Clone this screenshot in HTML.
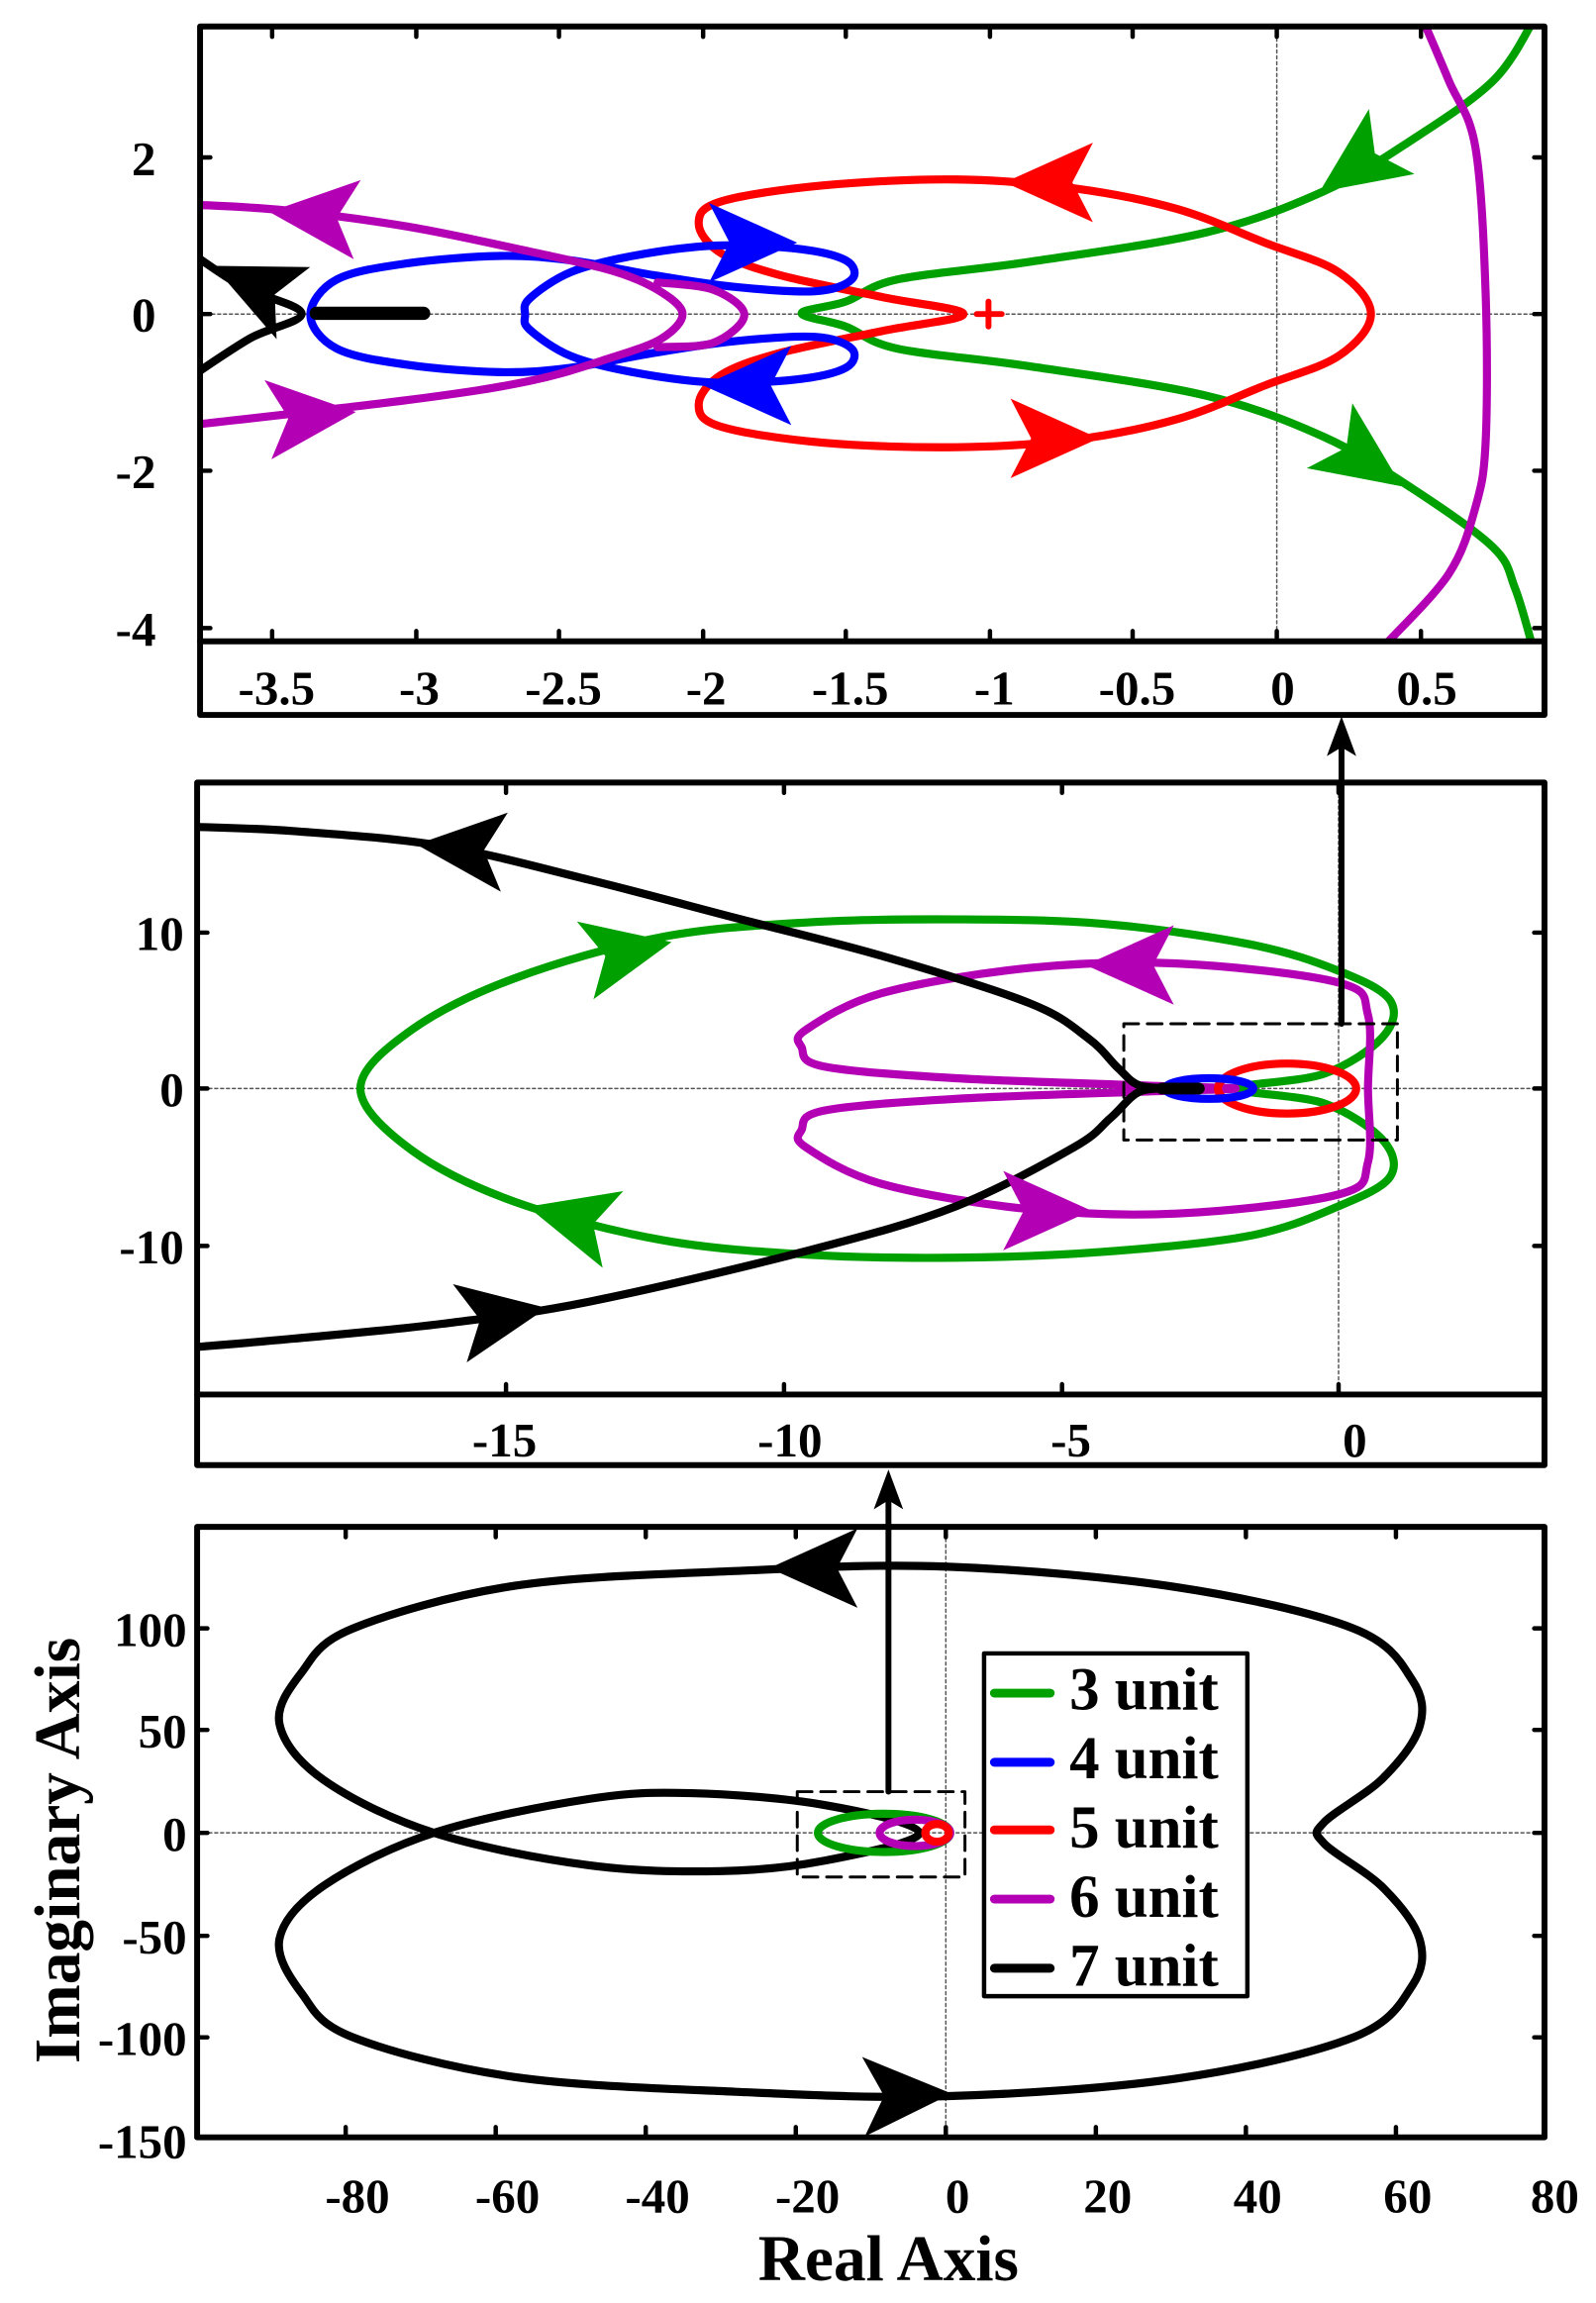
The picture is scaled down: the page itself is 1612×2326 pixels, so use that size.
<!DOCTYPE html>
<html><head><meta charset="utf-8"><style>
html,body{margin:0;padding:0;background:#fff}
svg{display:block}
text{font-family:"Liberation Serif",serif;font-weight:bold;fill:#000}
</style></head><body>
<svg width="1612" height="2326" viewBox="0 0 1085 1565.6" xmlns="http://www.w3.org/2000/svg">
<defs>
<clipPath id="c1"><rect x="136" y="18" width="914" height="418"/></clipPath>
<clipPath id="c2"><rect x="134" y="532" width="916" height="416"/></clipPath>
<clipPath id="c3"><rect x="134" y="1038" width="916" height="415"/></clipPath>
</defs>
<g fill="none" stroke-linejoin="round" stroke-linecap="round">

<line x1="136" y1="213.5" x2="1050" y2="213.5" stroke="#555" stroke-width="1" stroke-dasharray="2,2"/>
<line x1="868" y1="18" x2="868" y2="436" stroke="#555" stroke-width="1" stroke-dasharray="2,2"/>
<g clip-path="url(#c1)" stroke-width="5.5">
<path class="sm" stroke="#00a000" d="M1042,15 L1015,55 L960,95 L900,130 L820,158 L700,178 L610,190 L575,205 L545,213 L575,222 L610,237 L700,249 L820,269 L900,297 L960,332 L1015,372 L1030,400 L1042,440"/>
<path class="sm" stroke="#b400b4" d="M968,15 L985,55 L1003,100 L1010,200 L1010,300 L1003,345 L985,390 L943,437"/>
<path class="sm" stroke="#ff0000" d="M655,213.5 L600,202 L530,187 L490,172 L475,152 L490,137 L560,126 L650,122 L730,128 L800,142 L860,165 L910,185 L932,213.5 L910,242 L860,262 L800,285 L730,299 L650,304 L560,301 L490,290 L475,275 L490,255 L530,240 L600,225 Z"/>
<path class="sm" stroke="#0000ff" d="M211,214 L229,190 L277,179 L340,174 L388,177 L444,187 L499,195 L554,198 L579,190 L575,177 L541,169 L485,167 L430,174 L388,185 L360,203 L357,214 L360,224 L388,242 L430,253 L485,260 L541,258 L575,250 L579,237 L554,229 L499,232 L444,240 L388,250 L340,253 L277,248 L229,237 Z"/>
<path class="sm" stroke="#b400b4" d="M130,139 L194,143 L277,154 L360,171 L416,184 L447,197 L464,213 L450,230 L416,243 L360,259 L277,272 L130,289"/>
<path class="sm" stroke="#b400b4" d="M447,192 L485,197 L506,214 L485,233 L447,236"/>
<path class="sm" stroke="#000" d="M130,172 L165,195 L205,213 L170,230 L130,256"/>
<path stroke="#000" stroke-width="9" d="M215,213 L288,213"/>
</g>
<path d="M672,205 V222 M664,213.5 H681" stroke="#ff0000" stroke-width="4"/>
<rect x="136" y="18" width="914" height="468" stroke="#000" stroke-width="4"/>
<line x1="136" y1="436" x2="1050" y2="436" stroke="#000" stroke-width="4"/>
<g stroke="#000" stroke-width="3">
<path d="M185,18v7M283,18v7M380,18v7M478,18v7M575,18v7M673,18v7M770,18v7M868,18v7M966,18v7"/>
<path d="M185,436v-7M283,436v-7M380,436v-7M478,436v-7M575,436v-7M673,436v-7M770,436v-7M868,436v-7M966,436v-7"/>
<path d="M136,107h7M136,320h7M136,427h7M1050,107h-7M1050,320h-7M1050,427h-7M136,213.5h7M1050,213.5h-7"/>
</g>

<line x1="134" y1="740" x2="1050" y2="740" stroke="#555" stroke-width="1" stroke-dasharray="2,2"/>
<line x1="910" y1="532" x2="910" y2="948" stroke="#555" stroke-width="1" stroke-dasharray="2,2"/>
<g clip-path="url(#c2)" stroke-width="5.5">
<path class="sm" stroke="#00a000" d="M840,740 L900,730 L940,705 L945,680 L910,660 L850,642 L750,628 L650,625 L550,627 L450,637 L350,665 L280,700 L245,740 L280,782 L350,817 L450,843 L550,853 L650,855 L750,851 L850,840 L910,820 L945,800 L940,775 L900,750 Z"/>
<path class="sm" stroke="#b400b4" d="M840,740 L780,738 L650,733 L560,725 L545,712 L548,700 L600,675 L700,658 L800,655 L910,668 L930,690 L930,740 L930,790 L910,812 L800,825 L700,822 L600,805 L548,780 L545,768 L560,755 L650,747 L780,742 Z"/>
<ellipse cx="875" cy="740" rx="47" ry="17" stroke="#ff0000"/>
<ellipse cx="822" cy="740" rx="30" ry="7" stroke="#0000ff"/>
<path class="sm" stroke="#000" d="M130,562 L200,565 L300,575 L400,598 L500,624 L600,650 L700,682 L740,706 L760,726 L775,738 L800,740 L775,742 L755,760 L730,780 L650,820 L550,850 L400,885 L300,900 L200,910 L130,916"/>
<path stroke="#000" stroke-width="8" d="M790,740 L815,740"/>
</g>
<rect x="134" y="532" width="916" height="464" stroke="#000" stroke-width="4"/>
<line x1="134" y1="948" x2="1050" y2="948" stroke="#000" stroke-width="4"/>
<g stroke="#000" stroke-width="3">
<path d="M344,532v7M533,532v7M722,532v7M910,532v7M344,948v-7M533,948v-7M722,948v-7M910,948v-7"/>
<path d="M134,634h7M134,740h7M134,847h7M1050,634h-7M1050,740h-7M1050,847h-7"/>
</g>
<rect x="764" y="696" width="186" height="79" stroke="#000" stroke-width="2" stroke-dasharray="10,6"/>

<line x1="134" y1="1246" x2="1050" y2="1246" stroke="#555" stroke-width="1" stroke-dasharray="2,2"/>
<line x1="643" y1="1038" x2="643" y2="1453" stroke="#555" stroke-width="1" stroke-dasharray="2,2"/>
<g clip-path="url(#c3)" stroke-width="5.5">
<path class="sm" stroke="#000" d="M625,1246 L560,1227 L470,1219 L400,1223 L295,1246 L220,1282 L190,1318 L205,1355 L240,1385 L350,1412 L500,1422 L643,1425 L800,1413 L920,1385 L960,1350 L965,1318 L940,1283 L900,1253 L900,1239 L940,1209 L965,1174 L960,1142 L920,1107 L800,1079 L643,1065 L500,1068 L350,1078 L240,1107 L205,1137 L190,1172 L220,1210 L295,1246 L400,1268 L490,1272 L560,1265 Z"/>
<ellipse cx="601" cy="1246" rx="45" ry="13" stroke="#00a000"/>
<ellipse cx="622" cy="1246" rx="24" ry="9" stroke="#b400b4"/>
<ellipse cx="637" cy="1246" rx="8" ry="6" stroke="#ff0000"/>
</g>
<rect x="134" y="1038" width="916" height="415" stroke="#000" stroke-width="4"/>
<g stroke="#000" stroke-width="3">
<path d="M235,1038v7M337,1038v7M439,1038v7M541,1038v7M643,1038v7M745,1038v7M847,1038v7M949,1038v7"/>
<path d="M235,1453v-7M337,1453v-7M439,1453v-7M541,1453v-7M643,1453v-7M745,1453v-7M847,1453v-7M949,1453v-7"/>
<path d="M134,1107h7M134,1176h7M134,1246h7M134,1316h7M134,1385h7M1050,1107h-7M1050,1176h-7M1050,1246h-7M1050,1316h-7M1050,1385h-7"/>
</g>
<rect x="542" y="1218" width="114" height="58" stroke="#000" stroke-width="2" stroke-dasharray="10,6"/>

<rect x="669" y="1124" width="179" height="233" fill="#fff" stroke="#000" stroke-width="3"/>
<g stroke-width="6">
<line x1="676" y1="1151" x2="714" y2="1151" stroke="#00a000"/>
<line x1="676" y1="1198" x2="714" y2="1198" stroke="#0000ff"/>
<line x1="676" y1="1244" x2="714" y2="1244" stroke="#ff0000"/>
<line x1="676" y1="1291" x2="714" y2="1291" stroke="#b400b4"/>
<line x1="676" y1="1338" x2="714" y2="1338" stroke="#000"/>
</g>

<line x1="604" y1="1218" x2="604" y2="1010" stroke="#000" stroke-width="4"/>
<line x1="912" y1="696" x2="912" y2="500" stroke="#000" stroke-width="4"/>
</g>
<path d="M604,999 L594,1026 L604,1020 L614,1026 Z" fill="#000"/>
<path d="M912,487 L902,514 L912,508 L922,514 Z" fill="#000"/>

<g>
<g transform="translate(705,124) rotate(180)"><polygon fill="#ff0000" points="22,0 -38,-27 -24,0 -38,27"/></g>
<g transform="translate(725,298) rotate(0)"><polygon fill="#ff0000" points="22,0 -38,-27 -24,0 -38,27"/></g>
<g transform="translate(520,165) rotate(0)"><polygon fill="#0000ff" points="22,0 -38,-27 -24,0 -38,27"/></g>
<g transform="translate(500,262) rotate(180)"><polygon fill="#0000ff" points="22,0 -38,-27 -24,0 -38,27"/></g>
<g transform="translate(205,146) rotate(185)"><polygon fill="#b400b4" points="22,0 -38,-27 -24,0 -38,27"/></g>
<g transform="translate(220,282) rotate(-5)"><polygon fill="#b400b4" points="22,0 -38,-27 -24,0 -38,27"/></g>
<g transform="translate(165,190) rotate(205)"><polygon fill="#000" points="22,0 -38,-27 -24,0 -38,27"/></g>
<g transform="translate(915,118) rotate(145)"><polygon fill="#00a000" points="22,0 -38,-27 -24,0 -38,27"/></g>
<g transform="translate(935,318) rotate(35)"><polygon fill="#00a000" points="22,0 -38,-27 -24,0 -38,27"/></g>
<g transform="translate(305,576) rotate(185)"><polygon fill="#000" points="22,0 -38,-27 -24,0 -38,27"/></g>
<g transform="translate(350,893) rotate(-10)"><polygon fill="#000" points="22,0 -38,-27 -24,0 -38,27"/></g>
<g transform="translate(435,645) rotate(-12)"><polygon fill="#00a000" points="22,0 -38,-27 -24,0 -38,27"/></g>
<g transform="translate(380,826) rotate(195)"><polygon fill="#00a000" points="22,0 -38,-27 -24,0 -38,27"/></g>
<g transform="translate(760,656) rotate(180)"><polygon fill="#b400b4" points="22,0 -38,-27 -24,0 -38,27"/></g>
<g transform="translate(720,823) rotate(0)"><polygon fill="#b400b4" points="22,0 -38,-27 -24,0 -38,27"/></g>
<g transform="translate(545,1066) rotate(180)"><polygon fill="#000" points="22,0 -38,-27 -24,0 -38,27"/></g>
<g transform="translate(625,1424) rotate(-2)"><polygon fill="#000" points="22,0 -38,-27 -24,0 -38,27"/></g>
</g>

<g font-size="33">
<g text-anchor="end">
<text x="106" y="119">2</text><text x="106" y="225">0</text><text x="106" y="332">-2</text><text x="106" y="439">-4</text>
<text x="125" y="646">10</text><text x="125" y="752">0</text><text x="125" y="859">-10</text>
<text x="127" y="1119">100</text><text x="127" y="1188">50</text><text x="127" y="1258">0</text><text x="127" y="1328">-50</text><text x="127" y="1397">-100</text><text x="127" y="1467">-150</text>
</g>
<g text-anchor="middle">
<text x="188" y="479">-3.5</text><text x="285" y="479">-3</text><text x="383" y="479">-2.5</text><text x="480" y="479">-2</text><text x="578" y="479">-1.5</text><text x="676" y="479">-1</text><text x="773" y="479">-0.5</text><text x="872" y="479">0</text><text x="970" y="479">0.5</text>
<text x="343" y="990">-15</text><text x="537" y="990">-10</text><text x="728" y="990">-5</text><text x="921" y="990">0</text>
<text x="243" y="1504">-80</text><text x="345" y="1504">-60</text><text x="447" y="1504">-40</text><text x="549" y="1504">-20</text><text x="651" y="1504">0</text><text x="753" y="1504">20</text><text x="855" y="1504">40</text><text x="957" y="1504">60</text><text x="1057" y="1504">80</text>
</g>
<g font-size="41">
<text x="727" y="1162">3 unit</text><text x="727" y="1209">4 unit</text><text x="727" y="1256">5 unit</text><text x="727" y="1303">6 unit</text><text x="727" y="1350">7 unit</text>
</g>
<text x="604" y="1550" font-size="44" text-anchor="middle">Real Axis</text>
<text transform="translate(54,1258) rotate(-90)" font-size="44" text-anchor="middle">Imaginary Axis</text>
</g>
</svg>
<script>
document.querySelectorAll('path.sm').forEach(function(p){
  var d=p.getAttribute('d');var closed=/Z\s*$/.test(d);
  var n=d.match(/-?\d+(\.\d+)?/g).map(Number);var pts=[];
  for(var i=0;i<n.length;i+=2)pts.push([n[i],n[i+1]]);
  var L=pts.length;function g(i){if(closed)return pts[(i+L)%L];return pts[Math.max(0,Math.min(L-1,i))];}
  var s='M'+pts[0][0]+','+pts[0][1];var last=closed?L:L-1;
  for(var i=0;i<last;i++){var p0=g(i-1),p1=g(i),p2=g(i+1),p3=g(i+2);
    s+=' C'+(p1[0]+(p2[0]-p0[0])/6)+','+(p1[1]+(p2[1]-p0[1])/6)+' '+(p2[0]-(p3[0]-p1[0])/6)+','+(p2[1]-(p3[1]-p1[1])/6)+' '+p2[0]+','+p2[1];}
  if(closed)s+=' Z';p.setAttribute('d',s);
});
</script>
</body></html>
